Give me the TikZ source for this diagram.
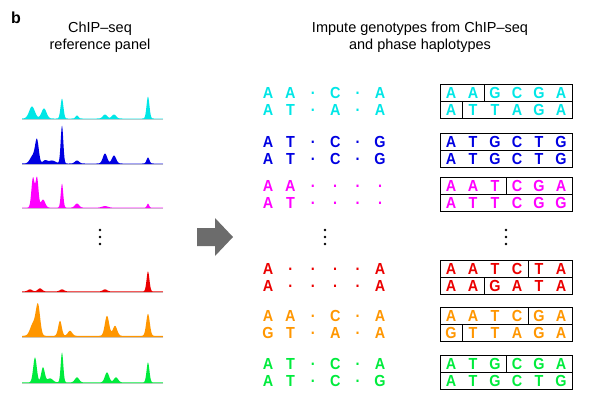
\documentclass[tikz,border=0pt]{standalone}
\usepackage{fontspec}
\setmainfont{Liberation Sans}
\definecolor{ccy}{RGB}{0,230,230}
\definecolor{cbl}{RGB}{0,0,225}
\definecolor{cmg}{RGB}{255,0,255}
\definecolor{crd}{RGB}{235,0,0}
\definecolor{cor}{RGB}{255,150,0}
\definecolor{cgr}{RGB}{0,235,60}
\pgfmathdeclarefunction{pk}{4}{\pgfmathparse{#3*exp(-((#1-#2)/#4)^2)}}
\tikzset{lt/.style={font=\bfseries\fontsize{16}{16}\selectfont, inner sep=0pt, anchor=center, xscale=0.9},
 hd/.style={font=\fontsize{14.5}{17}\selectfont, align=center, inner sep=0pt}}
\newcommand{\track}[3]{% base, color, expr
 \draw[gray!40, line width=0.6] (22,#1) -- (163,#1);
 \fill[#2] (22,#1) -- plot[domain=22:163,samples=300] (\x,{#1-(#3)}) -- (163,#1) -- cycle;}
\newcommand{\genorow}[3]{% y, color, letters
 \foreach \l [count=\i] in {#3} {\node[lt,text=#2] at ({268+22.4*(\i-1)},#1) {\l};}}
\newcommand{\hrow}[4]{% ycenter, color, letters, divider list
 \draw[line width=0.6] (440,#1-8.5) rectangle (572,#1+8.5);
 \foreach \d in {#4} {\draw[line width=0.6] ({440+22*\d},#1-8.5) -- ({440+22*\d},#1+8.5);}
 \foreach \l [count=\i] in {#3} {\node[lt,text=#2] at ({451+22*(\i-1)},#1) {\l};}}
\newcommand{\vdt}[1]{\foreach \dy in {-7,0,7} \fill (#1,237+\dy) circle (1.3);}
\begin{document}
\begin{tikzpicture}[x=1pt,y=-1pt]
\useasboundingbox (0,0) rectangle (600,413);
\node[font=\bfseries\fontsize{16}{16}\selectfont, inner sep=0pt] at (16,18) {b};
\node[hd] at (100,37) {ChIP–seq\\reference panel};
\node[hd] at (420,37) {Impute genotypes from ChIP–seq\\and phase haplotypes};
% tracks
\track{119}{ccy}{pk(\x,32,12,4)+pk(\x,44,10,3.5)+pk(\x,62,20,2)+pk(\x,77,3,2)+pk(\x,105,4,3)+pk(\x,114,4,3)+pk(\x,148,22,2)+0.5}
\track{164}{cbl}{pk(\x,37,22,2.5)+pk(\x,33,8,4)+pk(\x,62,38,1.8)+pk(\x,45,3,3)+pk(\x,52,3,5)+pk(\x,77,3,3)+pk(\x,105,10,3)+pk(\x,114,8,3)+pk(\x,148,6,2)+0.5}
\track{208}{cmg}{pk(\x,33,30,2.2)+pk(\x,37,30,2)+pk(\x,43,8,3)+pk(\x,62,24,1.7)+pk(\x,77,4,3)+pk(\x,148,4,1.5)+pk(\x,105,1.5,4)+0.4}
\track{292}{crd}{pk(\x,30,2,3)+pk(\x,40,3,3)+pk(\x,62,2,3)+pk(\x,105,2,3)+pk(\x,148,20,2)+0.6}
\track{337}{cor}{pk(\x,38,30,3)+pk(\x,33,12,4)+pk(\x,60,15,2.5)+pk(\x,70,5,3)+pk(\x,107,20,3)+pk(\x,115,10,3)+pk(\x,148,22,2.5)+1.2}
\track{383}{cgr}{pk(\x,35,25,2.5)+pk(\x,43,15,2.5)+pk(\x,62,30,1.8)+pk(\x,50,4,4)+pk(\x,77,5,3)+pk(\x,107,10,3)+pk(\x,116,5,3)+pk(\x,148,20,2)+0.6}
\vdt{100}
% arrow
\fill[gray!85!black] (197,228) -- (215,228) -- (215,218) -- (233,237) -- (215,256) -- (215,246) -- (197,246) -- cycle;
% genotypes
\genorow{93}{ccy}{A,A,.,C,.,A}\genorow{110}{ccy}{A,T,.,A,.,A}
\genorow{142}{cbl}{A,T,.,C,.,G}\genorow{159}{cbl}{A,T,.,C,.,G}
\genorow{186}{cmg}{A,A,.,.,.,.}\genorow{203}{cmg}{A,T,.,.,.,.}
\genorow{269}{crd}{A,.,.,.,.,A}\genorow{286}{crd}{A,.,.,.,.,A}
\genorow{316}{cor}{A,A,.,C,.,A}\genorow{333}{cor}{G,T,.,A,.,A}
\genorow{364}{cgr}{A,T,.,C,.,A}\genorow{381}{cgr}{A,T,.,C,.,G}
\vdt{325}\vdt{506}
% haplotypes
\hrow{93}{ccy}{A,A,G,C,G,A}{2}\hrow{110}{ccy}{A,T,T,A,G,A}{1}
\hrow{142}{cbl}{A,T,G,C,T,G}{}\hrow{159}{cbl}{A,T,G,C,T,G}{}
\hrow{186}{cmg}{A,A,T,C,G,A}{3}\hrow{203}{cmg}{A,T,T,C,G,G}{}
\hrow{269}{crd}{A,A,T,C,T,A}{4}\hrow{286}{crd}{A,A,G,A,T,A}{2}
\hrow{316}{cor}{A,A,T,C,G,A}{4}\hrow{333}{cor}{G,T,T,A,G,A}{1}
\hrow{364}{cgr}{A,T,G,C,G,A}{3}\hrow{381}{cgr}{A,T,G,C,T,G}{}
\end{tikzpicture}
\end{document}
